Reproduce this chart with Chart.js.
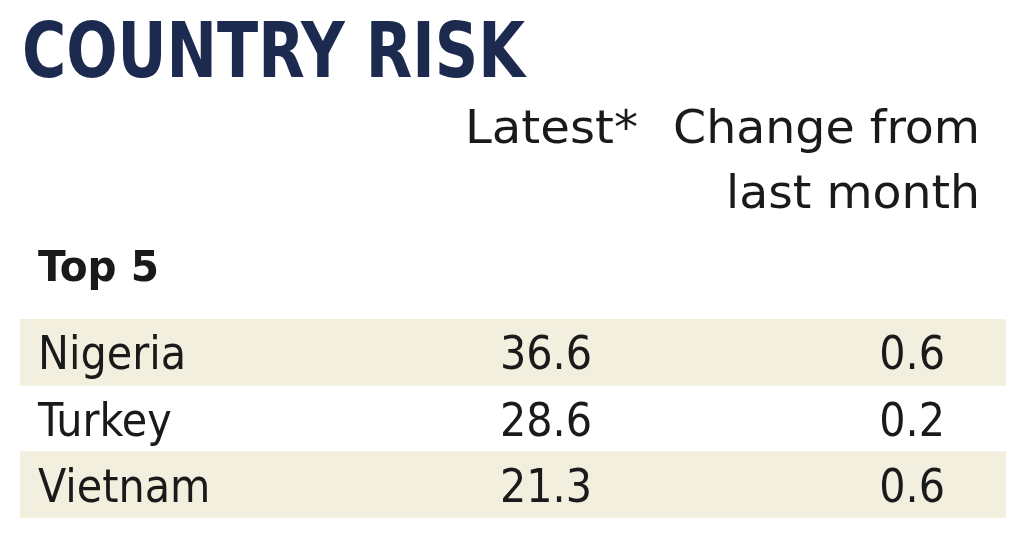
<!DOCTYPE html>
<html><head><meta charset="utf-8">
<script src="https://cdn.jsdelivr.net/npm/chart.js@4"></script>
<style>html,body{margin:0;padding:0;background:#fff}#c{display:block}</style>
</head><body>
<div style="width:1024px;height:536px"><canvas id="c"></canvas></div>
<script>
const title = "COUNTRY RISK";
const headers = ["Latest*", "Change from", "last month"];
const section = "Top 5";
const countries = ["Nigeria", "Turkey", "Vietnam"];
const latest = [36.6, 28.6, 21.3];
const change = [0.6, 0.2, 0.6];

function fitText(ctx, txt, x, y, w, align) {
  const m = ctx.measureText(txt).width;
  ctx.save();
  ctx.translate(x, y);
  ctx.scale(w / m, 1);
  ctx.textAlign = align || 'left';
  ctx.fillText(txt, 0, 0);
  ctx.restore();
}

const textPlugin = {
  id: 'tableText',
  afterDraw(chart) {
    const ctx = chart.ctx, ys = chart.scales.y;
    ctx.save();
    ctx.textBaseline = 'alphabetic';
    ctx.fillStyle = '#1b2a4e';
    ctx.font = 'bold 76px "DejaVu Sans Condensed", "DejaVu Sans"';
    fitText(ctx, title, 22, 77, 503);
    ctx.fillStyle = '#1a1a1a';
    ctx.font = '46px "DejaVu Sans Condensed", "DejaVu Sans"';
    fitText(ctx, headers[0], 465, 143, 173);
    fitText(ctx, headers[1], 673, 143, 307);
    fitText(ctx, headers[2], 726, 208, 254);
    ctx.font = 'bold 42px "DejaVu Sans Condensed", "DejaVu Sans"';
    fitText(ctx, section, 38, 281, 121);
    ctx.font = '46px "DejaVu Sans Condensed", "DejaVu Sans"';
    countries.forEach((c, i) => {
      const y = ys.getPixelForValue(i) + 17;
      ctx.textAlign = 'left';
      ctx.fillText(c, 38, y);
      ctx.textAlign = 'right';
      ctx.fillText(latest[i].toFixed(1), 592, y);
      ctx.fillText(change[i].toFixed(1), 945, y);
    });
    ctx.restore();
  }
};

new Chart(document.getElementById('c'), {
  type: 'bar',
  data: {
    labels: countries,
    datasets: [{
      data: countries.map(() => [0, 1]),
      backgroundColor: countries.map((_, i) => i % 2 === 0 ? '#f3efdf' : 'rgba(0,0,0,0)'),
      borderWidth: 0,
      barPercentage: 1,
      categoryPercentage: 1
    }]
  },
  options: {
    indexAxis: 'y',
    responsive: true,
    maintainAspectRatio: false,
    animation: false,
    layout: { padding: { left: 20, right: 18, top: 319, bottom: 18 } },
    plugins: { legend: { display: false }, tooltip: { enabled: false } },
    scales: {
      x: { display: false, min: 0, max: 1 },
      y: { display: false }
    }
  },
  plugins: [textPlugin]
});
</script>
</body></html>
